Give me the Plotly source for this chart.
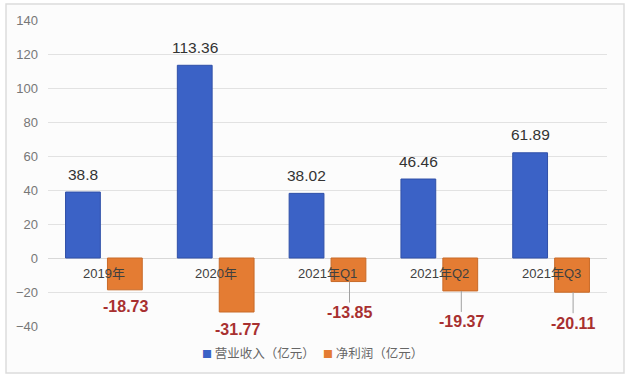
import plotly.graph_objects as go

categories = ["2019年", "2020年", "2021年Q1", "2021年Q2", "2021年Q3"]
revenue = [38.8, 113.36, 38.02, 46.46, 61.89]
profit = [-18.73, -31.77, -13.85, -19.37, -20.11]
revenue_name = "营业收入（亿元）"
profit_name = "净利润（亿元）"
y_ticks = [-40, -20, 0, 20, 40, 60, 80, 100, 120, 140]

FONT = "Liberation Sans, Arial, Noto Sans CJK SC, sans-serif"
CJK = "Liberation Sans, Noto Sans CJK SC, sans-serif"
BLUE = "#3b62c6"
ORANGE = "#e47c33"

fig = go.Figure()
fig.add_trace(go.Bar(x=categories, y=revenue, name=revenue_name, showlegend=False,
                     marker=dict(color=BLUE, line=dict(color="#3050a8", width=1))))
fig.add_trace(go.Bar(x=categories, y=profit, name=profit_name, showlegend=False,
                     marker=dict(color=ORANGE, line=dict(color="#c86a28", width=1))))

annotations = []
for c, v in zip(categories, revenue):
    annotations.append(dict(x=c, y=v, xref="x", yref="y", text=f"{v:g}", showarrow=False,
                            xshift=-21, yshift=18, font=dict(family=FONT, size=15.5, color="#333333")))
for i, (c, v) in enumerate(zip(categories, profit)):
    if i < 2:
        annotations.append(dict(x=c, y=v, xref="x", yref="y", text=f"{v:.2f}", showarrow=False,
                                xshift=22, yshift=-17,
                                font=dict(family=FONT, size=16, color="#a83030", weight="bold")))
    else:
        annotations.append(dict(x=c, y=v, xref="x", yref="y", text=f"{v:.2f}", showarrow=True,
                                arrowhead=0, arrowwidth=1, arrowcolor="#a0a0a0", ax=0, ay=31,
                                xshift=22, standoff=0,
                                font=dict(family=FONT, size=16, color="#a83030", weight="bold")))
for c in categories:
    annotations.append(dict(x=c, y=0, xref="x", yref="y", text=c, showarrow=False,
                            yanchor="top", yshift=-6,
                            font=dict(family=CJK, size=13, color="#404040")))

# legend drawn as text
legend_items = [(revenue_name, BLUE, 0.272), (profit_name, ORANGE, 0.489)]
for name, col, xpos in legend_items:
    annotations.append(dict(
        x=xpos, y=-0.088, xref="paper", yref="paper", xanchor="left", yanchor="middle",
        showarrow=False,
        text=f"<span style='color:{col};font-size:10px'>■</span> {name}",
        font=dict(family="Noto Sans CJK SC, sans-serif", size=12.5, color="#666666")))

fig.update_layout(
    width=640, height=386,
    margin=dict(l=48, r=33, t=20, b=60),
    paper_bgcolor="white", plot_bgcolor="rgba(0,0,0,0)",
    barmode="group", bargap=0.25, bargroupgap=0.17,
    font=dict(family=FONT),
    showlegend=False,
    xaxis=dict(showticklabels=False, showgrid=False, zeroline=False, showline=False,
               ticks=""),
    yaxis=dict(range=[-40, 140], tickvals=y_ticks, showgrid=True, gridcolor="#e2e2e2",
               gridwidth=1, zeroline=True, zerolinecolor="#d8d8d8", zerolinewidth=1,
               showline=False, ticks="", ticklabelstandoff=9,
               tickfont=dict(family=FONT, size=13, color="#777777")),
    annotations=annotations,
    shapes=[dict(type="rect", xref="paper", yref="paper", x0=-0.0751, x1=1.0304,
                 y0=-0.1536, y1=1.052, line=dict(color="#dcdcdc", width=1.5),
                 fillcolor="#fcfcfc", layer="below")],
)

fig.write_html("out.html", config={"displayModeBar": False},
               post_script="document.body.style.margin='0';document.body.style.overflow='hidden';")
